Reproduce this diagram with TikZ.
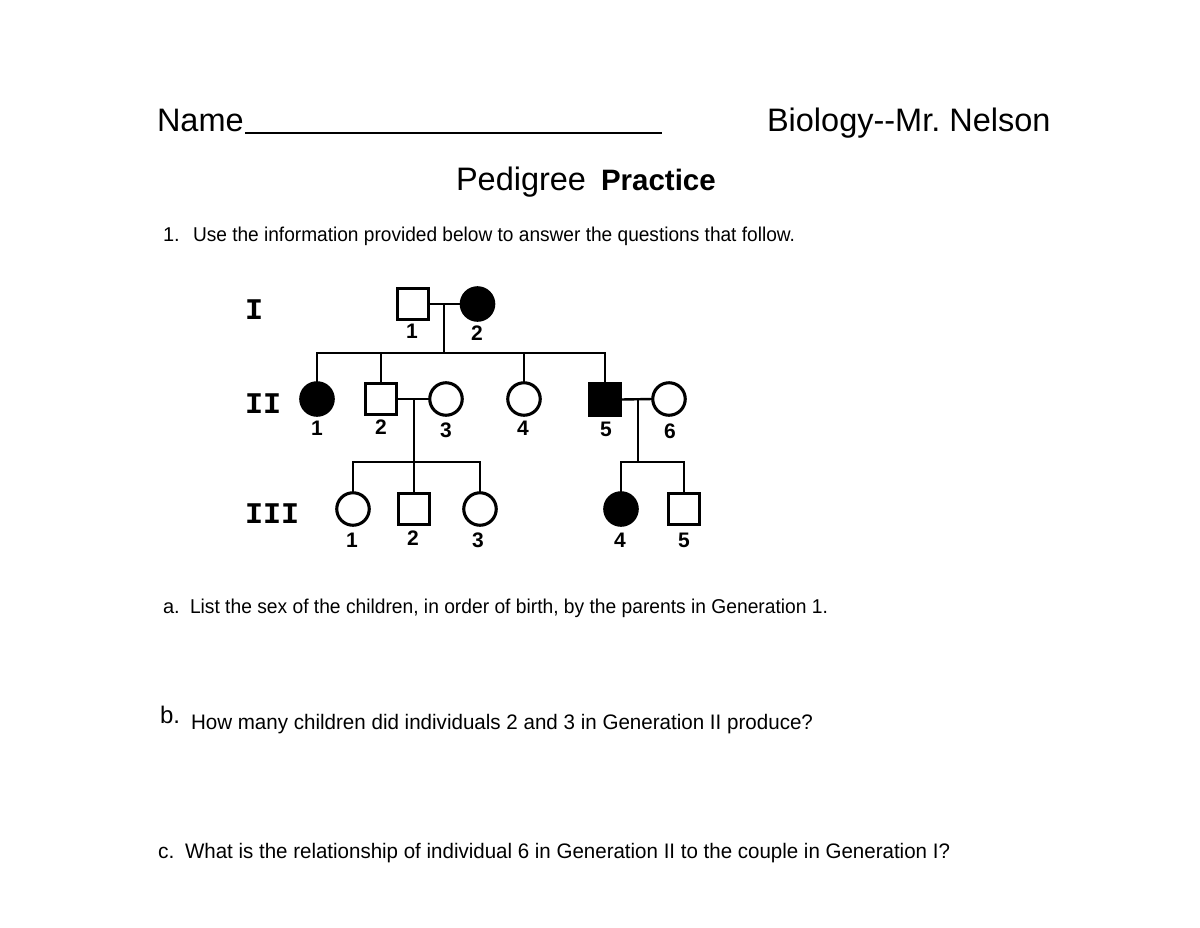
\documentclass[tikz,border=0pt]{standalone}
\usepackage{fontspec}
\setmainfont{Liberation Sans}
\newfontfamily\genfont{Liberation Mono}
\usepackage{graphicx}
\begin{document}
\begin{tikzpicture}[x=1pt,y=-1pt,
  every node/.style={inner sep=0pt, outer sep=0pt},
  male/.style={draw, line width=3.1pt, rectangle, minimum size=31.5pt},
  female/.style={draw, line width=3.1pt, circle, minimum size=32.5pt},
  aff/.style={fill=black},
  lnk/.style={line width=2.4pt},
  num/.style={font=\fontsize{21}{21}\selectfont\bfseries},
  gen/.style={font=\genfont\fontsize{30}{30}\selectfont\bfseries, anchor=base west},
  txt/.style={anchor=base west},
  big/.style={font=\fontsize{32.5}{32.5}\selectfont},
  body/.style={font=\fontsize{20}{20}\selectfont},
]
\fill[white] (0,0) rectangle (1200,927);
\useasboundingbox (0,0) rectangle (1200,927);

% header
\node[txt, big] (name) at (157,131) {Name};
\coordinate (ulA) at (245,133);
\coordinate (ulB) at (662,133);
\draw[line width=2.4pt] (ulA) -- (ulB);
\node[txt, big] (bio) at (767,131) {Biology{-}{-}Mr.\ Nelson};
\node[txt, big] (ped) at (456,190) {Pedigree};
\node[txt, font=\fontsize{29.5}{29.5}\selectfont\bfseries] (prac) at (601,190) {Practice};

\node[txt, body] (q1n) at (163,241) {1.};
\node[txt, body] (q1) at (193,241) {\resizebox{602pt}{\height}{Use the information provided below to answer the questions that follow.}};

% generation labels
\node[gen] (gI) at (245,319) {I};
\node[gen] (gII) at (245,413) {II};
\node[gen] (gIII) at (245,523) {III};

% generation I
\node[male] (I1) at (413,304) {};
\node[female, aff] (I2) at (477.5,304) {};
\node[num] (lI1) at (412,331) {1};
\node[num] (lI2) at (477,333) {2};
\coordinate (m1) at (444,304);
\coordinate (s1) at (444,353);

% generation II
\node[female, aff] (II1) at (317,399) {};
\node[male] (II2) at (381,399) {};
\node[female] (II3) at (446,399) {};
\node[female] (II4) at (524,399) {};
\node[male, aff] (II5) at (605,399.5) {};
\node[female] (II6) at (669,399) {};
\node[num] (lII1) at (317,428) {1};
\node[num] (lII2) at (381,427) {2};
\node[num] (lII3) at (446,430) {3};
\node[num] (lII4) at (523,428) {4};
\node[num] (lII5) at (606,429) {5};
\node[num] (lII6) at (670,431) {6};
\coordinate (m2) at (414,399);
\coordinate (s2) at (414,462);
\coordinate (m3) at (638,399);
\coordinate (s3) at (638,462);

% generation III
\node[female] (III1) at (353,509) {};
\node[male] (III2) at (414,509) {};
\node[female] (III3) at (480,509) {};
\node[female, aff] (III4) at (621,509) {};
\node[male] (III5) at (684,509) {};
\node[num] (lIII1) at (352,540) {1};
\node[num] (lIII2) at (413,538) {2};
\node[num] (lIII3) at (478,540) {3};
\node[num] (lIII4) at (620,540) {4};
\node[num] (lIII5) at (684,540) {5};

% connectors
\draw[lnk] (I1.east) -- (I2.west);
\draw[lnk] (m1) -- (s1);
\draw[lnk] (II1.north) |- (s1) -| (II5.north);
\draw[lnk] (II2.north) -- (II2 |- s1);
\draw[lnk] (II4.north) -- (II4 |- s1);
\draw[lnk] (II2.east) -- (II3.west);
\draw[lnk] (m2) -- (III2.north);
\draw[lnk] (III1.north) |- (s2) -| (III3.north);
\draw[lnk] (II5.east) -- (II6.west);
\draw[lnk] (m3) -- (s3);
\draw[lnk] (III4.north) |- (s3) -| (III5.north);

% questions
\node[txt, body] (qan) at (163,613) {a.};
\node[txt, body] (qa) at (190,613) {\resizebox{638pt}{\height}{List the sex of the children, in order of birth, by the parents in Generation 1.}};
\node[txt, font=\fontsize{24}{24}\selectfont] (qbn) at (160,723) {b.};
\node[txt, font=\fontsize{21}{21}\selectfont] (qb) at (191,729) {\resizebox{622pt}{\height}{How many children did individuals 2 and 3 in Generation II produce?}};
\node[txt, font=\fontsize{21}{21}\selectfont] (qcn) at (158,858) {c.};
\node[txt, font=\fontsize{21}{21}\selectfont] (qc) at (185,858) {\resizebox{765pt}{\height}{What is the relationship of individual 6 in Generation II to the couple in Generation I?}};
\end{tikzpicture}
\end{document}
